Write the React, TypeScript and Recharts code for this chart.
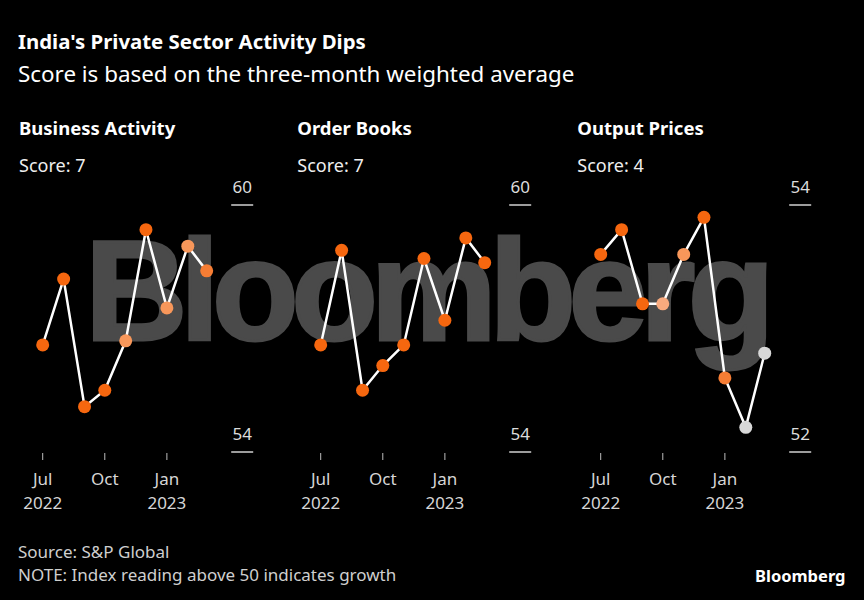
import { LineChart, Line, XAxis, YAxis } from 'recharts'

const FONT = "'Noto Sans', Roboto, sans-serif"

// months shown (first of month)
const months = ['2022-07', '2022-08', '2022-09', '2022-10', '2022-11', '2022-12', '2023-01', '2023-02', '2023-03']
const tickMonths = ['2022-07', '2022-10', '2023-01']
const tickMonthLabels = ['Jul', 'Oct', 'Jan']
const tickYearLabels = ['2022', '', '2023']

const businessActivity = [56.6, 58.2, 55.1, 55.5, 56.7, 59.4, 57.5, 59.0, 58.4]
const orderBooks = [56.6, 58.9, 55.5, 56.1, 56.6, 58.7, 57.2, 59.2, 58.6]
const outputPrices = [53.6, 53.8, 53.2, 53.2, 53.6, 53.9, 52.6, 52.2, 52.8]

const activityTicks = [54, 60]
const pricesTicks = [52, 54]

const DARK = '#f6670f'
const MID = '#f67d34'
const LIGHT = '#f8975a'
const PEACH = '#f8aa7e'
const GREY = '#d8d8d8'

const businessColors = [DARK, DARK, DARK, DARK, LIGHT, DARK, LIGHT, LIGHT, MID]
const orderColors = [DARK, DARK, DARK, DARK, DARK, DARK, DARK, DARK, DARK]
const pricesColors = [DARK, DARK, DARK, PEACH, LIGHT, DARK, MID, GREY, GREY]

const toTime = (m: string) => {
  const [y, mo] = m.split('-').map(Number)
  return Date.UTC(y, mo - 1, 1)
}

const xTicks = tickMonths.map(toTime)

interface PanelProps {
  title: string
  score: string
  values: number[]
  colors: string[]
  ticks: number[]
  left: number
}

function Panel({ title, score, values, colors, ticks, left }: PanelProps) {
  const data = months.map((m, i) => ({ t: toTime(m), v: values[i] }))

  const renderDot = (props: any) => {
    const { cx, cy, index } = props
    return <circle key={index} cx={cx} cy={cy} r={6.5} fill={colors[index]} stroke="none" />
  }

  const renderYTick = (props: any) => {
    const { x, y, payload } = props
    return (
      <g>
        <text x={x + 35.5} y={y - 12} textAnchor="middle" fill="#dcdcdc" fontSize={17} fontFamily={FONT}>
          {payload.value}
        </text>
        <line x1={x + 24.5} x2={x + 46.5} y1={y} y2={y} stroke="#d0d0d0" strokeWidth={1.5} />
      </g>
    )
  }

  const renderXTick = (props: any) => {
    const { x, y, index } = props
    return (
      <g>
        <line x1={x} x2={x} y1={y + 1} y2={y + 8} stroke="#bdbdbd" strokeWidth={1} />
        <text x={x} y={y + 33} textAnchor="middle" fill="#d6d6d6" fontSize={17} fontFamily={FONT}>
          {tickMonthLabels[index]}
        </text>
        <text x={x} y={y + 57} textAnchor="middle" fill="#d6d6d6" fontSize={17} fontFamily={FONT}>
          {tickYearLabels[index]}
        </text>
      </g>
    )
  }

  return (
    <div style={{ position: 'absolute', left, top: 0, width: 280, height: 530 }}>
      <div style={{ position: 'absolute', left: 19, top: 119, fontSize: 18.5, lineHeight: 1, fontWeight: 700, color: '#fff', whiteSpace: 'nowrap' }}>
        {title}
      </div>
      <div style={{ position: 'absolute', left: 19, top: 156, fontSize: 18, lineHeight: 1, color: '#eee', whiteSpace: 'nowrap' }}>
        {score}
      </div>
      <div style={{ position: 'absolute', left: 0, top: 150 }}>
        <LineChart width={270} height={372} data={data} margin={{ top: 55, right: 13.3, bottom: 0, left: 42.7 }}>
          <XAxis
            dataKey="t"
            type="number"
            domain={[toTime(months[0]), toTime(months[months.length - 1])]}
            ticks={xTicks}
            axisLine={false}
            tickLine={false}
            tickSize={0}
            tickMargin={0}
            height={70}
            interval={0}
            tick={renderXTick}
          />
          <YAxis
            orientation="right"
            domain={[ticks[0], ticks[ticks.length - 1]]}
            ticks={ticks}
            axisLine={false}
            tickLine={false}
            tickSize={0}
            tickMargin={0}
            width={50}
            interval={0}
            tick={renderYTick}
          />
          <Line
            dataKey="v"
            stroke="#ffffff"
            strokeWidth={2.5}
            dot={renderDot}
            activeDot={false}
            isAnimationActive={false}
          />
        </LineChart>
      </div>
    </div>
  )
}

export default function App() {
  return (
    <div
      style={{
        position: 'absolute',
        left: 0,
        top: 0,
        width: 864,
        height: 600,
        background: '#000',
        fontFamily: FONT,
        color: '#fff',
        overflow: 'hidden',
      }}
    >
      {/* watermark, sits behind the panels */}
      <div
        style={{
          position: 'absolute',
          left: 85,
          top: 220,
          fontFamily: "'Liberation Sans', Arial, sans-serif",
          fontWeight: 700,
          fontSize: 142,
          lineHeight: 1,
          letterSpacing: -7.5,
          color: '#4a4a4a',
          WebkitTextStroke: '3px #4a4a4a',
          whiteSpace: 'nowrap',
        }}
      >
        Bloomberg
      </div>

      <div style={{ position: 'absolute', left: 18, top: 31, fontSize: 20.4, lineHeight: 1, fontWeight: 700, whiteSpace: 'nowrap' }}>
        India's Private Sector Activity Dips
      </div>
      <div style={{ position: 'absolute', left: 18, top: 63, fontSize: 22.4, lineHeight: 1, whiteSpace: 'nowrap' }}>
        Score is based on the three-month weighted average
      </div>

      <Panel title="Business Activity" score="Score: 7" values={businessActivity} colors={businessColors} ticks={activityTicks} left={0} />
      <Panel title="Order Books" score="Score: 7" values={orderBooks} colors={orderColors} ticks={activityTicks} left={278.3} />
      <Panel title="Output Prices" score="Score: 4" values={outputPrices} colors={pricesColors} ticks={pricesTicks} left={558.3} />

      <div style={{ position: 'absolute', left: 18, top: 543, fontSize: 17, lineHeight: 1, color: '#cfcfcf', whiteSpace: 'nowrap' }}>
        Source: S&amp;P Global
      </div>
      <div style={{ position: 'absolute', left: 18, top: 566.3, fontSize: 17, lineHeight: 1, color: '#cfcfcf', whiteSpace: 'nowrap' }}>
        NOTE: Index reading above 50 indicates growth
      </div>
      <div style={{ position: 'absolute', left: 755, top: 568, fontSize: 16.5, lineHeight: 1, fontWeight: 700, color: '#fff', whiteSpace: 'nowrap' }}>
        Bloomberg
      </div>
    </div>
  )
}
